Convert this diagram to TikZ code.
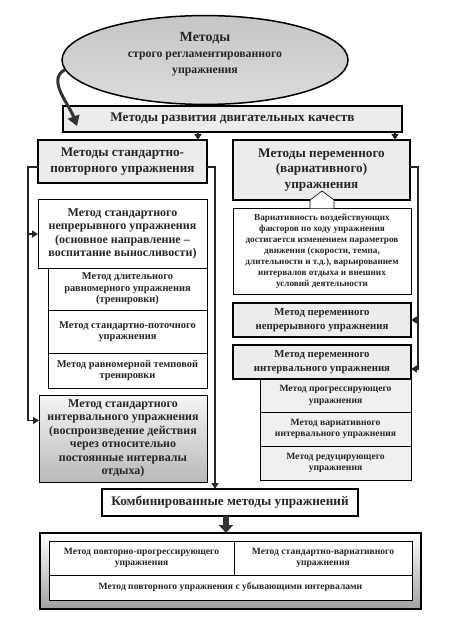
\documentclass[tikz,border=0pt]{standalone}
\usepackage{fontspec}
\setmainfont{Liberation Serif}
\usetikzlibrary{shapes.geometric, positioning, arrows.meta}

\begin{document}
\begin{tikzpicture}[x=1pt, y=-1pt, node distance=0pt,
    >={Triangle[length=6pt,width=7pt]},
    box/.style={draw, outer sep=0pt, inner sep=0pt, align=center, text=black!85},
    head/.style={box, line width=1.6pt, fill=gray!15},
    cell/.style={box, line width=0.6pt, fill=white, font=\bfseries\fontsize{9.6}{11.5}\selectfont},
    big/.style={font=\bfseries\fontsize{13.2}{15.5}\selectfont},
    mid/.style={font=\bfseries\fontsize{12}{13.5}\selectfont},
    small/.style={font=\bfseries\fontsize{10.8}{14}\selectfont},
    link/.style={line width=1.4pt, black!85}]
\useasboundingbox (0,0) rectangle (450,620);

% top of the scheme
\node[ellipse, draw, line width=1.5pt, minimum width=286pt, minimum height=76pt,
      top color=gray!45, middle color=gray!2, bottom color=gray!28, align=center,
      text=black!85, font=\bfseries\fontsize{11.8}{16}\selectfont] (top) at (205,60)
      {{\fontsize{14}{16}\selectfont Методы}\\строго регламентированного\\упражнения\\[-1pt]\mbox{}};
\node[head, big, line width=2pt, minimum width=339pt, minimum height=26pt] (dev) at (232.5,119)
      {Методы развития двигательных качеств};
\node[head, big, minimum width=169pt, minimum height=43pt] (lbox) at (122.5,161.5)
      {Методы стандартно-\\повторного упражнения};
\node[head, big, minimum width=177pt, minimum height=60pt] (rbox) at (321.5,170)
      {Методы переменного\\(вариативного)\\упражнения};

% left column
\node[box, mid, line width=1pt, fill=white, minimum width=169pt, minimum height=68pt] (cont) at (122.5,234)
      {Метод стандартного\\непрерывного упражнения\\(основное направление –\\воспитание выносливости)};
\node[cell, font=\bfseries\fontsize{10.4}{11.5}\selectfont, minimum width=159pt, minimum height=42pt,
      below left=of cont.south east] (l1)
      {Метод длительного\\равномерного упражнения\\(тренировки)};
\node[cell, font=\bfseries\fontsize{10.4}{11.5}\selectfont, minimum width=159pt, minimum height=43pt,
      below=of l1] (l2)
      {Метод стандартно-поточного\\упражнения};
\node[cell, font=\bfseries\fontsize{10.4}{11.5}\selectfont, minimum width=159pt, minimum height=35pt,
      below=of l2] (l3)
      {Метод равномерной темповой\\тренировки};
\node[box, mid, line width=1pt, top color=gray!8, bottom color=gray!55,
      minimum width=168pt, minimum height=87pt] (intv) at (123,438.5)
      {Метод стандартного\\интервального упражнения\\(воспроизведение действия\\через относительно\\постоянные интервалы\\отдыха)};

% right column
\node[cell, font=\bfseries\fontsize{9.2}{11}\selectfont, minimum width=178pt, minimum height=86pt] (vart) at (322,251)
      {Вариативность воздействующих\\факторов по ходу упражнения\\достигается изменением параметров\\движения (скорости, темпа,\\длительности и т.д.), варьированием\\интервалов отдыха и внешних\\условий деятельности};
\node[head, small, minimum width=178pt, minimum height=34pt] (rvc) at (322,320)
      {Метод переменного\\непрерывного упражнения};
\node[head, small, minimum width=178pt, minimum height=34pt] (rvi) at (322,362)
      {Метод переменного\\интервального упражнения};
\node[cell, fill=gray!12, minimum width=151pt, minimum height=33pt, below left=of rvi.south east] (r1)
      {Метод прогрессирующего\\упражнения};
\node[cell, fill=gray!12, minimum width=151pt, minimum height=34pt, below=of r1] (r2)
      {Метод вариативного\\интервального упражнения};
\node[cell, fill=gray!12, minimum width=151pt, minimum height=34pt, below=of r2] (r3)
      {Метод редуцирующего\\упражнения};

% bottom
\node[head, big, fill=white, minimum width=256pt, minimum height=27pt] (comb) at (230,502.5)
      {Комбинированные методы упражнений};
\node[box, line width=1.2pt, top color=white, bottom color=gray!75,
      minimum width=381pt, minimum height=76pt] (bot) at (230.5,571) {};
\node[cell, minimum width=185pt, minimum height=34pt] (b1) at (141.5,558)
      {Метод повторно-прогрессирующего\\упражнения};
\node[cell, minimum width=178pt, minimum height=34pt, right=of b1] (b2)
      {Метод стандартно-вариативного\\упражнения};
\node[cell, minimum width=363pt, minimum height=25pt, below right=of b1.south west] (b3)
      {Метод повторного упражнения с убывающими интервалами};

% callout of the text box
\draw[line width=0.6pt, fill=white] ([xshift=-12pt,yshift=-0.4pt]vart.north)
      -- ++(0,-8.4) -- ++(12,-9) -- ++(12,9) -- ++(0,8.4);

% arrows
\draw[line width=3pt, gray!40!black, -{Triangle[length=10pt,width=12pt]}]
      (top.184) .. controls +(-18,10) and +(-8,-22) .. ([xshift=14pt,yshift=-7pt]dev.west);
\draw[link,->] ([xshift=-9pt]lbox.north east |- dev.south) -- ([xshift=-9pt]lbox.north east);
\draw[link,->] ([xshift=-15pt]rbox.north east |- dev.south) -- ([xshift=-15pt]rbox.north east);
\draw[link,->] ([yshift=-5.5pt]lbox.west) -- ++(-10,0) |- ([yshift=18pt]intv.west);
\draw[link,->] (cont.west) ++(-10,0) -- (cont.west);
\draw[link,->] ([yshift=-5.5pt]lbox.east) -- ++(8,0) -- ([xshift=-15pt]comb.north);
\draw[link,->] ([yshift=3pt]rbox.east) -- ++(8,0) |- ([yshift=-7pt]rvi.east);
\draw[link,->] (rvc.east) ++(8,0) -- (rvc.east);
\draw[line width=6pt, black!80, -{Triangle[length=8pt,width=14pt]}]
      ([xshift=-4pt]comb.south) -- ([xshift=-4.5pt]bot.north);
\end{tikzpicture}
\end{document}
